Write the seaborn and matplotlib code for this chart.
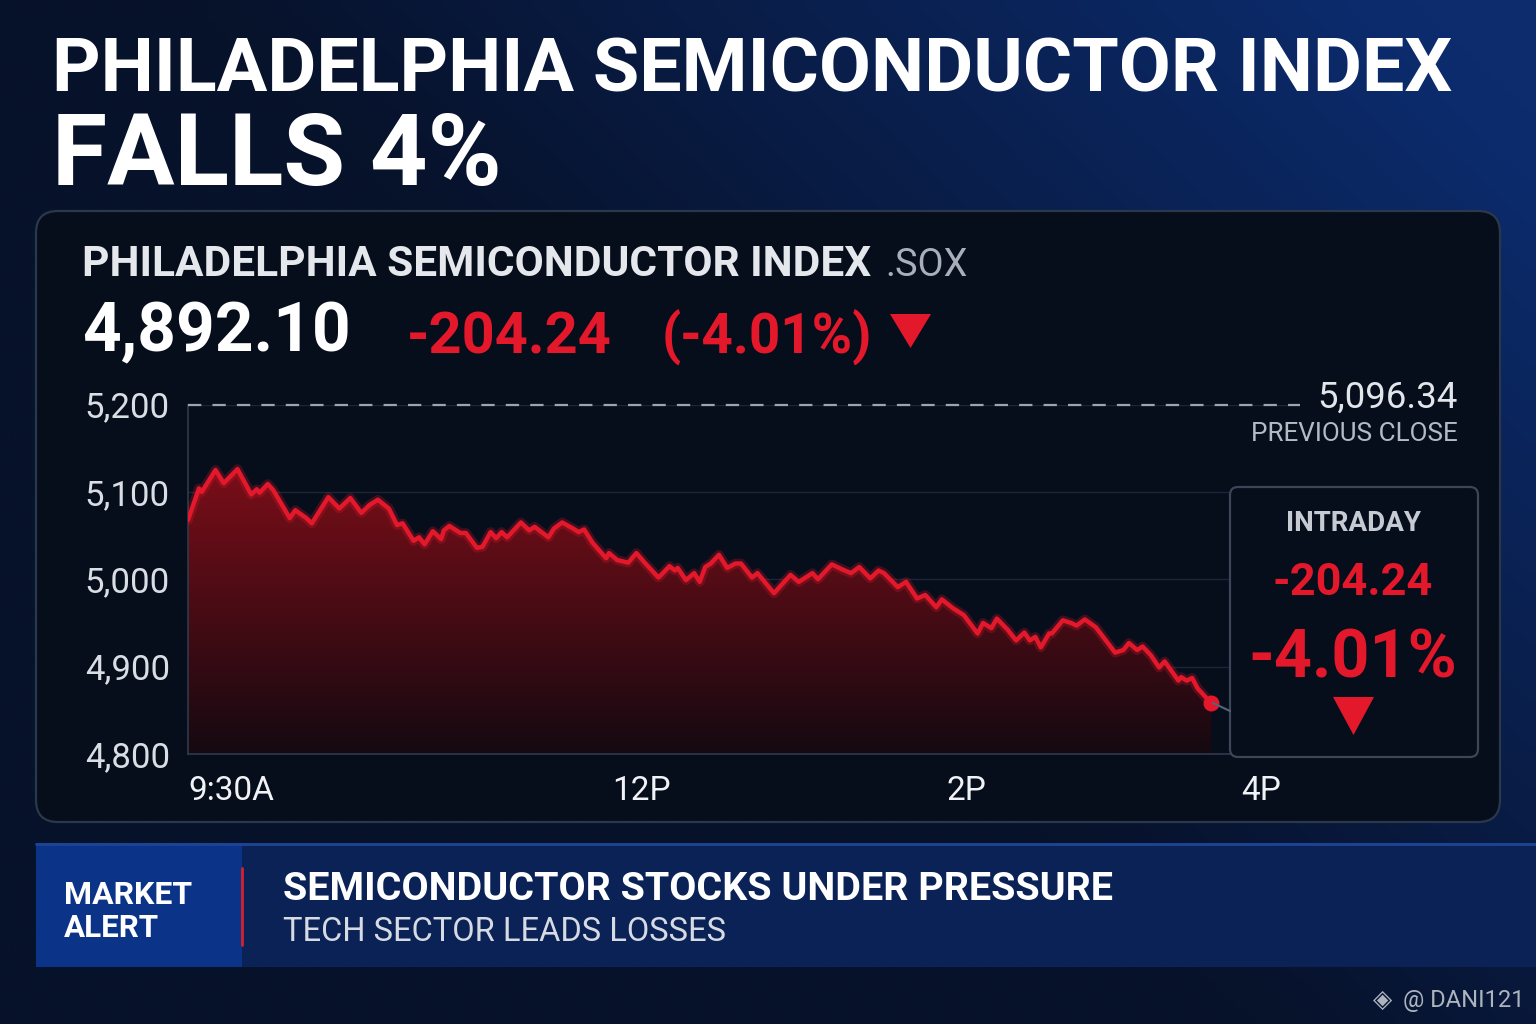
import numpy as np
import pandas as pd
import matplotlib
matplotlib.use("Agg")
import matplotlib.pyplot as plt
import seaborn as sns
from matplotlib.patches import FancyBboxPatch, Rectangle, Polygon
from matplotlib.lines import Line2D
from matplotlib.colors import LinearSegmentedColormap, to_rgb

# intraday SOX levels (minutes after 9:30)
minutes = [0, 4, 5, 10, 13, 18, 23, 25, 26, 29, 31, 37, 39, 43, 45, 51, 55, 59, 63, 66,
           69, 73, 76, 78, 82, 84, 86, 89, 92, 93, 95, 99, 101, 105, 107, 110, 112, 114, 116, 121,
           124, 126, 131, 133, 136, 140, 142, 144, 147, 152, 153, 156, 160, 163, 166, 171, 172, 175, 177, 178,
           181, 184, 186, 188, 190, 193, 196, 199, 201, 205, 207, 213, 219, 222, 227, 229, 234, 238, 241, 244,
           248, 251, 253, 258, 261, 265, 268, 272, 274, 278, 282, 287, 289, 292, 294, 298, 301, 304, 306, 308,
           310, 313, 314, 318, 321, 323, 326, 330, 337, 340, 342, 345, 347, 350, 353, 355, 360, 361, 363, 365,
           367, 372]
index_level = [5068, 5104, 5100, 5125, 5110, 5126, 5097, 5103, 5099, 5109, 5102, 5070, 5079, 5070, 5064, 5094, 5081, 5093, 5076, 5085,
               5091, 5081, 5062, 5064, 5044, 5048, 5040, 5055, 5046, 5056, 5061, 5053, 5053, 5036, 5037, 5054, 5047, 5054, 5048, 5065,
               5056, 5060, 5048, 5058, 5065, 5058, 5054, 5057, 5042, 5024, 5030, 5022, 5019, 5030, 5019, 5002, 5005, 5015, 5010, 5013,
               4999, 5007, 4997, 5014, 5018, 5028, 5013, 5018, 5018, 5002, 5007, 4984, 5005, 4997, 5007, 5000, 5017, 5011, 5007, 5014,
               5001, 5010, 5007, 4991, 4997, 4978, 4982, 4968, 4977, 4967, 4959, 4938, 4950, 4944, 4955, 4942, 4930, 4939, 4930, 4934,
               4922, 4938, 4938, 4953, 4950, 4947, 4954, 4945, 4916, 4919, 4927, 4919, 4923, 4913, 4899, 4906, 4884, 4888, 4884, 4887,
               4875, 4858]

y_ticks = [4800, 4900, 5000, 5100, 5200]
y_tick_labels = ["4,800", "4,900", "5,000", "5,100", "5,200"]
x_ticks = [0, 165, 283, 390]
x_tick_labels = ["9:30A", "12P", "2P", "4P"]
prev_close_line = 5200
prev_close_label = "5,096.34"
last_price = "4,892.10"
net_change = "-204.24"
pct_change = "-4.01%"

W, H = 1536, 1024
RED = "#e3182b"

sns.set_theme(style="dark")
plt.rcParams["font.family"] = ["Roboto", "DejaVu Sans"]

fig = plt.figure(figsize=(W / 100, H / 100), dpi=100)
renderer = fig.canvas.get_renderer()

# background in pixel coordinates
bg = fig.add_axes([0, 0, 1, 1], zorder=-10)
bg.set_axis_off()
gx, gy = np.meshgrid(np.linspace(0, 1, 160), np.linspace(0, 1, 110))
t = np.clip((gx - 0.45) * 1.3 + (0.45 - gy) * 0.9, 0, 1)
c0, c1 = np.array(to_rgb("#07122b")), np.array(to_rgb("#0c2c6e"))
bg.imshow(c0 + (c1 - c0) * t[..., None], extent=[0, W, H, 0], aspect="auto", interpolation="bicubic")
bg.set_xlim(0, W)
bg.set_ylim(H, 0)

bg.add_patch(FancyBboxPatch((36, 211), 1464, 611, boxstyle="round,pad=0,rounding_size=22",
                            fc="#060d1b", ec="#2b384c", lw=1.6))
bg.add_patch(Rectangle((36, 843), 1500, 124, fc="#0b2257", ec="none"))
bg.add_patch(Rectangle((36, 843), 206, 124, fc="#0b3388", ec="none"))
bg.plot([36, 1536], [844, 844], color="#1d4596", lw=2)
bg.plot([242, 242], [868, 945], color="#d8202e", lw=2)


def put(x, y, s, size, width=None, ha="left", **kw):
    txt = fig.text(x / W, 1 - y / H, s, fontsize=size, ha=ha, va="baseline", zorder=10, **kw)
    if width:
        w = txt.get_window_extent(renderer).width
        txt.set_fontsize(size * width / w)
    return txt


# chart
ax = fig.add_axes([188 / W, 1 - 754 / H, (1300 - 188) / W, (754 - 404.5) / H])
ax.set_facecolor("none")
df = pd.DataFrame({"minute": minutes, "level": index_level})
sns.lineplot(data=df, x="minute", y="level", color=RED, lw=7, alpha=0.25, ax=ax, zorder=3)
sns.lineplot(data=df, x="minute", y="level", color=RED, lw=3.2, ax=ax, zorder=4)
poly = ax.fill_between(df["minute"], df["level"], 4800, color="none")
fade = LinearSegmentedColormap.from_list("fade", ["#150911", "#7a0e18"])
im = ax.imshow(np.linspace(0, 1, 256).reshape(-1, 1), extent=[0, minutes[-1], 4800, max(index_level)],
               origin="lower", cmap=fade, aspect="auto", zorder=2)
im.set_clip_path(poly.get_paths()[0], transform=ax.transData)
ax.scatter([minutes[-1]], [index_level[-1]], s=110, color=RED, zorder=6, clip_on=False)
ax.axhline(prev_close_line, color="#9aa4b2", lw=1.6, ls=(0, (6, 5)), zorder=3, clip_on=False)

ax.set_xlim(0, 404.2)
ax.set_ylim(4800, 5200)
ax.set_yticks(y_ticks, y_tick_labels)
ax.set_xticks(x_ticks, x_tick_labels)
ax.get_xticklabels()[0].set_ha("left")
ax.tick_params(axis="y", length=0, pad=13, labelsize=25, labelcolor="#d9dde4")
ax.tick_params(axis="x", length=0, pad=15, labelsize=24, labelcolor="#f0f2f5")
ax.set_xlabel("")
ax.set_ylabel("")
ax.grid(axis="y", color="#1c2636", lw=1)
ax.grid(axis="x", visible=False)
for side in ["top", "right"]:
    ax.spines[side].set_visible(False)
for side in ["left", "bottom"]:
    ax.spines[side].set_color("#2f3a4c")
    ax.spines[side].set_linewidth(1.2)

# intraday box over the chart
box = FancyBboxPatch((1230, 487), 248, 270, boxstyle="round,pad=0,rounding_size=8",
                     fc="#060d1b", ec="#3b4659", lw=1.6, transform=bg.transData, zorder=5)
fig.add_artist(box)
fig.add_artist(Line2D([1213, 1230], [703, 711], color="#56627a", lw=1.5, transform=bg.transData, zorder=5))
fig.add_artist(Polygon([(1333, 697), (1374, 697), (1353.5, 735)], closed=True, fc=RED, ec="none",
                       transform=bg.transData, zorder=6))
fig.add_artist(Polygon([(890, 314), (931, 314), (910.5, 348)], closed=True, fc=RED, ec="none",
                       transform=bg.transData, zorder=6))

# headline
put(52, 92, "PHILADELPHIA SEMICONDUCTOR INDEX", 60, width=1403, weight="bold", color="white")
put(52, 185, "FALLS 4%", 66, width=450, weight="bold", color="white")

# quote header
put(82, 276, "PHILADELPHIA SEMICONDUCTOR INDEX", 30, width=786, weight="bold", color="#e4e7ec")
put(885, 276, ".SOX", 26, width=82, color="#a9afb9")
put(82, 351, last_price, 48, width=268, weight="bold", color="white")
put(407, 353, net_change, 44, width=205, weight="bold", color=RED)
put(662, 353, f"({pct_change})", 44, width=210, weight="bold", color=RED)

put(1458, 408, prev_close_label, 26, width=140, ha="right", color="#e2e5ea")
put(1458, 441, "PREVIOUS CLOSE", 19, width=206, ha="right", color="#b4bac4")

put(1353, 531, "INTRADAY", 20, width=135, ha="center", weight="bold", color="#c6cbd3")
put(1353, 595, net_change, 30, width=160, ha="center", weight="bold", color=RED)
put(1353, 677, pct_change, 44, width=208, ha="center", weight="bold", color=RED)

# banner
put(64, 904, "MARKET", 20, width=128, weight="bold", color="white")
put(64, 937, "ALERT", 20, width=95, weight="bold", color="white")
put(283, 900, "SEMICONDUCTOR STOCKS UNDER PRESSURE", 24, width=830, weight="bold", color="white")
put(283, 941, "TECH SECTOR LEADS LOSSES", 20, width=443, color="#d6dae2")

put(1383, 1007, "◈", 18, ha="center", color="#aeb4be", family=["DejaVu Sans"])
put(1403, 1007, "@ DANI121", 16, width=122, color="#aeb4be")

fig.savefig("out.png", dpi=100)
plt.close(fig)
